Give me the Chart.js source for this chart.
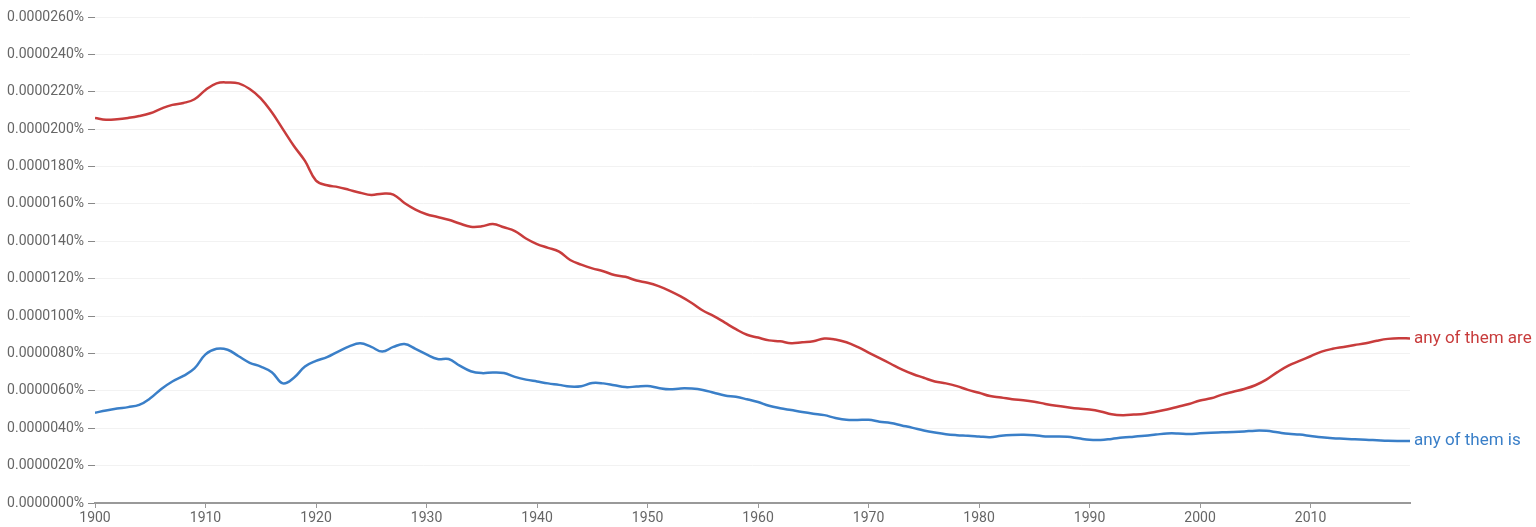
<!DOCTYPE html>
<html>
<head>
<meta charset="utf-8">
<script src="https://cdn.jsdelivr.net/npm/chart.js@4"></script>
<style>
  html, body { margin: 0; padding: 0; background: #fff; }
  #wrap { width: 1536px; height: 527px; position: relative; }
</style>
</head>
<body>
<div id="wrap"><canvas id="chart"></canvas></div>
<script>
// years 1900..2019, values in units of 0.0000001 %
const years = Array.from({ length: 120 }, (_, i) => 1900 + i);

const seriesNames = ['any of them are', 'any of them is'];
const seriesColors = ['#c83c3c', '#3a7fc8'];

const areValues = [
  206, 205, 205.3, 206, 207, 208.5, 211, 213, 214, 216,
  221, 224.5, 225, 224.5, 221.5, 216.5, 209, 200, 191, 183,
  172.5, 170, 169, 167.5, 166, 164.8, 165.5, 165, 160.5, 157,
  154.5, 153, 151.5, 149.5, 147.8, 148, 149.3, 147.5, 145.5, 141.5,
  138.5, 136.5, 134.5, 130, 127.5, 125.5, 124, 122, 121, 119,
  117.8, 116, 113.5, 110.5, 107, 103, 100, 96.5, 93, 90,
  88.5, 87, 86.5, 85.5, 86, 86.5, 88, 87.5, 86, 83.5,
  80.5, 77.5, 74.5, 71.5, 69, 67, 65, 64, 62.5, 60.5,
  59, 57.2, 56.5, 55.5, 55, 54.2, 53, 52, 51.2, 50.5,
  50, 49, 47.5, 47, 47.3, 47.8, 48.8, 50, 51.5, 53,
  54.8, 56, 58, 59.5, 61, 63, 66, 70, 73.5, 76,
  78.5, 81, 82.5, 83.5, 84.5, 85.5, 86.8, 87.8, 88.2, 88
];

const isValues = [
  48.3, 49.5, 50.5, 51.3, 52.5, 56, 61, 65, 68, 72,
  79.5, 82.5, 82, 78.5, 75, 73, 70, 64, 67, 73,
  76, 78, 81, 83.8, 85.4, 83.5, 81, 83.5, 85, 82.5,
  79.5, 77, 77, 73.5, 70.5, 69.5, 69.8, 69.5, 67.5, 66,
  65, 64, 63.2, 62.3, 62.5, 64.2, 64, 63, 62, 62.3,
  62.6, 61.5, 60.8, 61.3, 61.2, 60.5, 59, 57.5, 56.8, 55.5,
  54, 52, 50.7, 49.7, 48.7, 47.8, 47, 45.5, 44.5, 44.4,
  44.5, 43.5, 42.8, 41.5, 40.2, 38.8, 37.7, 36.8, 36.3, 36,
  35.6, 35.2, 36, 36.4, 36.5, 36.3, 35.6, 35.6, 35.4, 34.6,
  33.8, 33.7, 34.3, 35, 35.5, 36, 36.6, 37.2, 37.2, 36.9,
  37.3, 37.6, 37.8, 38, 38.3, 38.7, 38.6, 37.8, 37, 36.6,
  35.9, 35.2, 34.7, 34.4, 34.1, 33.9, 33.6, 33.3, 33.2, 33.2
];

const yMax = 260;
const yStep = 20;
const xMin = 1900, xMax = 2019, xStep = 10;

function toPoints(vals) {
  return vals.map((v, i) => ({ x: years[i], y: v }));
}

// draw series name at the end of each line
const endLabels = {
  id: 'endLabels',
  afterDatasetsDraw(chart) {
    const ctx = chart.ctx;
    ctx.save();
    ctx.font = '17px Roboto';
    ctx.textBaseline = 'middle';
    chart.data.datasets.forEach(ds => {
      const last = ds.data[ds.data.length - 1];
      const x = chart.scales.x.getPixelForValue(last.x) + 4;
      const y = chart.scales.y.getPixelForValue(last.y);
      ctx.fillStyle = ds.borderColor;
      ctx.fillText(ds.label, x, y);
    });
    ctx.restore();
  }
};

new Chart(document.getElementById('chart'), {
  type: 'line',
  data: {
    datasets: [
      { label: seriesNames[0], data: toPoints(areValues), borderColor: seriesColors[0] },
      { label: seriesNames[1], data: toPoints(isValues), borderColor: seriesColors[1] }
    ]
  },
  options: {
    responsive: true,
    maintainAspectRatio: false,
    animation: false,
    layout: { padding: { top: 17, right: 126, left: 0, bottom: 0 } },
    elements: {
      point: { radius: 0 },
      line: { borderWidth: 2.5, tension: 0.4, fill: false }
    },
    plugins: { legend: { display: false }, tooltip: { enabled: false } },
    scales: {
      x: {
        type: 'linear',
        min: xMin,
        max: xMax,
        ticks: {
          stepSize: xStep,
          color: '#666',
          font: { family: 'Roboto', size: 14 },
          padding: 2,
          maxRotation: 0,
          callback: v => String(v)
        },
        afterBuildTicks: s => { s.ticks = s.ticks.filter(t => t.value % xStep === 0); },
        afterFit: s => { s.height = 24; },
        grid: { display: true, drawOnChartArea: false, tickLength: 5, tickColor: '#999' },
        border: { display: true, color: '#999', width: 2 }
      },
      y: {
        min: 0,
        max: yMax,
        ticks: {
          stepSize: yStep,
          color: '#666',
          font: { family: 'Roboto', size: 14 },
          padding: 4,
          callback: v => (v * 1e-7).toFixed(7) + '%'
        },
        afterFit: s => { s.width = 95; },
        grid: { color: '#f2f2f2', tickLength: 7, tickColor: '#888', lineWidth: 1 },
        border: { display: false }
      }
    }
  },
  plugins: [endLabels]
});
</script>
</body>
</html>
